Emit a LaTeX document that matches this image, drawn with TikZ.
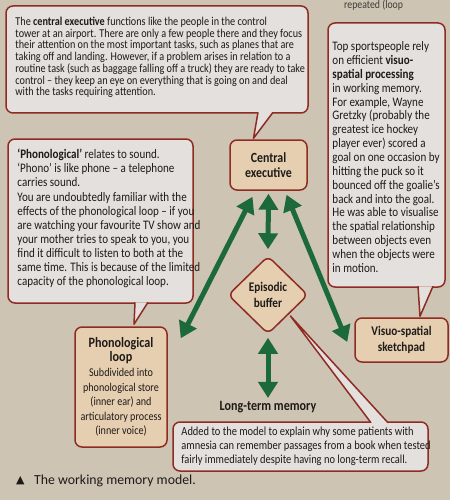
\documentclass[tikz,border=0pt]{standalone}
\usepackage{fontspec}
\setmainfont{Carlito}[FakeStretch=0.85]
\newfontfamily\capfont{Carlito}
\newfontfamily\symfont{DejaVu Sans}
\usetikzlibrary{arrows.meta,shapes.geometric,calc}
\definecolor{bg}{HTML}{CEC4B3}
\definecolor{tbfill}{HTML}{E3E0DE}
\definecolor{lbfill}{HTML}{E6CFB1}
\definecolor{rim}{HTML}{8E2B22}
\definecolor{grn}{HTML}{1C6A3B}
\definecolor{ink}{HTML}{1E1A18}
\begin{document}
\begin{tikzpicture}[x=1pt,y=-1pt,
  tbox/.style={draw=rim, line width=1.5pt, fill=tbfill, rounded corners=7pt, inner sep=0pt},
  txt/.style={anchor=west, text=ink, align=left, inner sep=0pt},
  lbox/.style={draw=rim, line width=1.5pt, fill=lbfill, rounded corners=7pt, text=ink, align=center, inner sep=1pt},
  arr/.style={draw=grn, line width=5pt, {Triangle[width=19pt,length=16pt]}-{Triangle[width=19pt,length=16pt]}},
  tail/.style={fill=tbfill, draw=rim, line width=1.5pt, line join=round, rounded corners=0pt}]
\fill[bg] (0,0) rectangle (450,500);
\useasboundingbox (0,0) rectangle (450,500);

\node[anchor=base west, font=\fontsize{11.5}{13}\selectfont, text=ink!85, inner sep=0pt] (frag) at (344,9) {repeated (loop};

% text boxes
\node[tbox, minimum width=302pt, minimum height=107pt] (cebox) at (157,59.5) {};
\node[txt, font=\fontsize{12}{11.7}\selectfont] (cetext) at ([shift={(10,-2)}]cebox.west)
{The \textbf{central executive} functions like the people in the control\\
tower at an airport. There are only a few people there and they focus\\
their attention on the most important tasks, such as planes that are\\
taking off and landing. However, if a problem arises in relation to a\\
routine task (such as baggage falling off a truck) they are ready to take\\
control – they keep an eye on everything that is going on and deal\\
with the tasks requiring attention.};

\node[tbox, minimum width=185pt, minimum height=164pt] (plbox) at (100.5,221) {};
\node[txt, font=\fontsize{13}{14.1}\selectfont] (pltext) at ([shift={(10,-2.5)}]plbox.west)
{\textbf{‘Phonological’} relates to sound.\\
‘Phono’ is like phone – a telephone\\
carries sound.\\
You are undoubtedly familiar with the\\
effects of the phonological loop – if you\\
are watching your favourite TV show and\\
your mother tries to speak to you, you\\
find it difficult to listen to both at the\\
same time. This is because of the limited\\
capacity of the phonological loop.};

\node[tbox, minimum width=117pt, minimum height=264pt] (vsbox) at (386.5,155) {};
\node[txt, font=\fontsize{13}{13.85}\selectfont] (vstext) at ([shift={(5,2)}]vsbox.west)
{Top sportspeople rely\\
on efficient \textbf{visuo-}\\
\textbf{spatial processing}\\
in working memory.\\
For example, Wayne\\
Gretzky (probably the\\
greatest ice hockey\\
player ever) scored a\\
goal on one occasion by\\
hitting the puck so it\\
bounced off the goalie’s\\
back and into the goal.\\
He was able to visualise\\
the spatial relationship\\
between objects even\\
when the objects were\\
in motion.};

\node[tbox, minimum width=255pt, minimum height=49pt] (ambox) at (300.5,446.5) {};
\node[txt, font=\fontsize{12.3}{13.8}\selectfont] (amtext) at ([shift={(9,0)}]ambox.west)
{Added to the model to explain why some patients with\\
amnesia can remember passages from a book when tested\\
fairly immediately despite having no long-term recall.};

% label boxes
\node[lbox, minimum width=77pt, minimum height=50pt, font=\bfseries\fontsize{14}{15}\selectfont] (ce) at (268.5,165) {Central\\executive};
\node[lbox, minimum width=92pt, minimum height=120pt, font=\fontsize{11.9}{14.6}\selectfont] (pl) at (121,387)
{{\fontsize{14.3}{14.6}\selectfont\textbf{Phonological}}\\{\fontsize{14.3}{14.6}\selectfont\textbf{loop}}\\Subdivided into\\phonological store\\(inner ear) and\\articulatory process\\(inner voice)};
\node[lbox, minimum width=93pt, minimum height=44pt, font=\bfseries\fontsize{13.2}{15.5}\selectfont] (vs) at (401.5,340) {Visuo-spatial\\sketchpad};
\node[diamond, draw=rim, fill=lbfill, line width=1.5pt, rounded corners=6pt, minimum width=80pt, minimum height=78pt, inner sep=0pt, align=center, text=ink, font=\bfseries\fontsize{13.2}{16}\selectfont] (eb) at (268,295) {Episodic\\buffer};
\node[text=ink, font=\bfseries\fontsize{14.2}{15}\selectfont, inner sep=1pt] (ltm) at (268,407) {Long-term memory};

% callout tails
\filldraw[tail] ([shift={(101,-1.5)}]cebox.south) -- ([shift={(-15,-1)}]ce.north) -- ([shift={(116,-1.5)}]cebox.south);
\filldraw[tail] ([shift={(34.5,-1.5)}]plbox.south) -- ([shift={(13,-2)}]pl.north) -- ([shift={(47.5,-1.5)}]plbox.south);
\filldraw[tail] ([shift={(31.5,-1.5)}]vsbox.south) -- ([shift={(18.5,-1)}]vs.north) -- ([shift={(46.5,-1.5)}]vsbox.south);
\coordinate (ebtip) at ($(eb.east)!0.5!(eb.south)+(2,1)$);
\filldraw[tail] ([shift={(70.5,1.5)}]ambox.north) -- (ebtip) -- ([shift={(87.5,1.5)}]ambox.north);

% arrows
\draw[arr] ([shift={(-16,6)}]ce.south) -- ([shift={(13,12)}]pl.north east);
\draw[arr] ([shift={(0,3)}]ce.south) -- ([shift={(0,-6)}]eb.north);
\draw[arr] ([shift={(18,4)}]ce.south) -- ([shift={(-7,2)}]vs.west);
\draw[arr] ([shift={(0,3)}]eb.south) -- ([shift={(0,-2)}]ltm.north);

% caption
\node[anchor=west, text=ink, font=\symfont\fontsize{11}{13}\selectfont, inner sep=0pt] (tri) at (16,481) {▲};
\node[anchor=west, text=ink, font=\capfont\fontsize{13.8}{16}\selectfont, inner sep=0pt] (cap) at (34,481) {The working memory model.};
\end{tikzpicture}
\end{document}
